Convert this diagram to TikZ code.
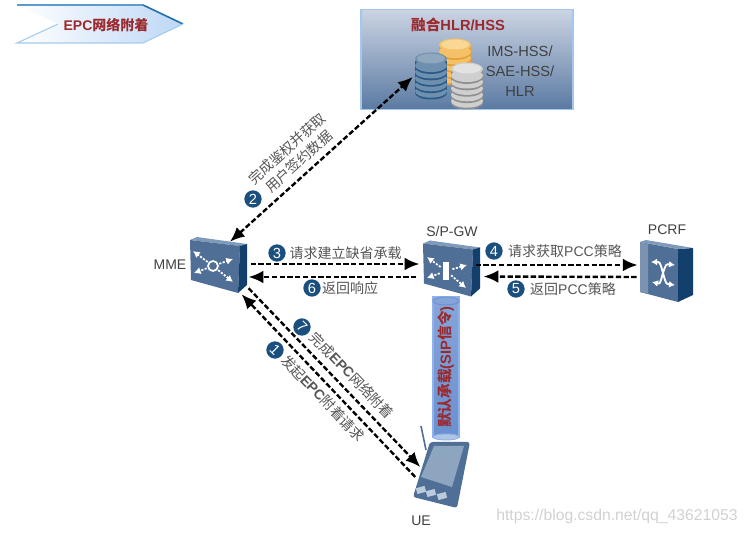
\documentclass[tikz,border=0pt]{standalone}
\usepackage{fontspec}
\setmainfont{Liberation Sans}
\newfontfamily\cjk{Noto Sans CJK SC}
\usetikzlibrary{arrows.meta,shapes.geometric}

\definecolor{devfront}{HTML}{4F6F96}
\definecolor{devside}{HTML}{123F6C}
\definecolor{devtop}{HTML}{7F9ABA}
\definecolor{badge}{HTML}{1B4F7E}
\definecolor{redtext}{HTML}{9B2A2E}
\definecolor{greytext}{HTML}{555555}
\definecolor{arrowfill}{HTML}{BDD7F5}
\definecolor{arrowtop}{HTML}{5B9BD0}
\definecolor{arrowdark}{HTML}{1F6FB0}
\definecolor{arrowlight}{HTML}{A5CBEE}
\definecolor{hsstop}{HTML}{CBD4E3}
\definecolor{hssbottom}{HTML}{5B7AA2}
\definecolor{hssline}{HTML}{A3C8F0}
\definecolor{bluerim}{HTML}{2A5A88}
\definecolor{blueface}{HTML}{6E8FAE}
\definecolor{bluecap}{HTML}{8FA8BE}
\definecolor{orangerim}{HTML}{E59F35}
\definecolor{orangeface}{HTML}{F5C168}
\definecolor{orangecap}{HTML}{F9D795}
\definecolor{greyrim}{HTML}{8F8F8F}
\definecolor{greyface}{HTML}{CFCFCF}
\definecolor{greycap}{HTML}{E2E2E2}
\definecolor{pipeleft}{HTML}{86A6DA}
\definecolor{pipemid}{HTML}{B0C4E4}
\definecolor{piperight}{HTML}{6A90CF}
\definecolor{pipeline}{HTML}{8FB2EC}
\definecolor{uescreen}{HTML}{8DA5BF}
\definecolor{uekey}{HTML}{BCCBDB}

\tikzset{
  link/.style={line width=1.8pt,dash pattern=on 4pt off 1.8pt},
  linkend/.style={-{Latex[length=11pt,width=9.5pt]}},
  linkboth/.style={{Latex[length=11pt,width=9.5pt]}-{Latex[length=11pt,width=9.5pt]}},
  numbadge/.style={circle,fill=badge,text=white,inner sep=0pt,minimum size=13pt,font=\fontsize{11}{12}\selectfont},
  steptext/.style={text=greytext,font=\fontsize{10.5}{13}\selectfont,inner sep=0pt,align=center},
  devname/.style={text=black!75,font=\fontsize{10.5}{12}\selectfont,inner sep=0pt},
  devbox/.style={inner sep=0pt,minimum width=#1},
  iconarrow/.style={white,line width=1.3pt,dash pattern=on 1.6pt off 1.1pt,-{Latex[length=5pt,width=5.5pt]},shorten <=5pt},
  pics/netbox/.style={code={
    \fill[devtop] (-29,-27) -- (-22,-30) -- (28,-23) -- (21,-21) -- cycle;
    \fill[devfront] (-29,-27) -- (21,-21) -- (19,26) -- (-28,13) -- cycle;
    \fill[devside] (21,-21) -- (28,-23) -- (28,18) -- (19,26) -- cycle;
  }},
  pics/coins/.style args={#1/#2/#3/#4}{code={
    \foreach \k in {#4,...,1} {
      \fill[#1] (-16,{6.4*\k-6.4}) rectangle (16,{6.4*\k});
      \fill[#1] (0,{6.4*\k}) ellipse (16 and 6.5);
      \fill[#2] (0,{6.4*\k-1.8}) ellipse (16 and 6.5);
    }
    \fill[#2] (0,-2) ellipse (16 and 6.5);
    \fill[#3] (0,-2.5) ellipse (14 and 5);
  }},
}

\begin{document}
\begin{tikzpicture}[x=0.75pt,y=-0.75pt]
\useasboundingbox (0,0) rectangle (747,534);

% title arrow
\path[left color=white,right color=arrowfill] (17,5) -- (143,5) -- (183,24) -- (143,43) -- (17,43) -- (58,24) -- cycle;
\draw[line width=1pt,arrowtop] (17,5) -- (143,5);
\draw[line width=1.2pt,arrowdark] (143,5) -- (183,24);
\draw[line width=.8pt,arrowlight] (183,24) -- (143,43) -- (17,43) -- (58,24);
\node[text=redtext,font=\fontsize{10.5}{12}\selectfont\bfseries,inner sep=0pt] (title) at (106,25) {EPC{\cjk 网络附着}};

% subscriber database
\node[draw=hssline,line width=.8pt,top color=hsstop,bottom color=hssbottom,minimum width=159pt,minimum height=75pt,inner sep=0pt] (hss) at (467,59.5) {};
\node[text=redtext,font=\fontsize{11}{13}\selectfont\bfseries,inner sep=0pt] (hsstitle) at (458,25) {{\cjk 融合}HLR/HSS};
\node[text=black!75,font=\fontsize{11}{15}\selectfont,inner sep=0pt,align=center] (hsstext) at (520,71) {IMS-HSS/\\SAE-HSS/\\HLR};
\pic at (455,47) {coins={orangerim/orangeface/orangecap/5}};
\pic at (431,61) {coins={bluerim/blueface/bluecap/5}};
\node[minimum width=24pt,minimum height=34.5pt,inner sep=0pt] (hssdata) at (431,75) {};
\pic at (467,71) {coins={greyrim/greyface/greycap/5}};

% devices
\node[devbox=44pt,minimum height=40.5pt] (mme) at (219,267) {};
\pic at (219,267) {netbox};
\draw[white,line width=1.3pt] (213,266) circle (5);
\foreach \tipx/\tipy in {-26/-16,14/-8,-25/6,14/15} {
  \draw[iconarrow] (213,266) -- (219+\tipx,267+\tipy);
}
\node[devname] (mmename) at (170,265) {MME};

\node[devbox=44pt,minimum height=44pt] (sgw) at (452,270.5) {};
\pic at (452,270.5) {netbox};
\fill[white] (443,262) rectangle (449,280);
\foreach \tipx/\tipy in {-25/-13,15/-5,-25/8,14/18} {
  \draw[iconarrow] (446,271) -- (452+\tipx,270+\tipy);
}
\node[devname] (sgwname) at (452,231) {S/P-GW};

\node[devbox=40pt,minimum height=46.5pt] (pcrf) at (666.5,271) {};
\fill[devfront] (640,242) -- (678,249) -- (678,302) -- (640,292) -- cycle;
\fill[devfront!75!white] (640,242) -- (648,244) -- (648,294) -- (640,292) -- cycle;
\fill[devside] (678,249) -- (693,248) -- (693,295) -- (678,302) -- cycle;
\fill[devtop] (640,242) -- (646,240) -- (693,248) -- (678,249) -- cycle;
\foreach \tipx/\tipy/\bendx/\bendy in {651/262/660/262,675/265/666/264,652/282/660/284,675/285/666/284} {
  \draw[white,line width=1.4pt,-{Latex[length=4.5pt,width=5pt]}] (663,273) .. controls (\bendx,\bendy) .. (\tipx,\tipy);
}
\node[devname] (pcrfname) at (667,230) {PCRF};

% default bearer
\node[rotate=90,minimum width=105pt,minimum height=19.5pt,inner sep=0pt,draw=pipeline,line width=.8pt,
  top color=pipeleft,middle color=pipemid,bottom color=piperight,
  text=redtext,font=\fontsize{11}{12}\selectfont\bfseries] (bearer) at (446,367) {{\cjk 默认承载}(SIP{\cjk 信令})};
\draw[piperight,line width=.7pt] (446,301) ellipse (13 and 4);
\draw[pipeline,line width=.7pt,fill=pipemid] (446,437) ellipse (13 and 3);

% UE
\node[minimum width=42pt,minimum height=49.5pt,inner sep=0pt] (ue) at (441.5,475) {};
\draw[line width=1.2pt,devfront] (426,450) -- (421,426);
\fill[devfront,rounded corners=2pt] (430,442) -- (470,442) -- (457,508) -- (413,497) -- cycle;
\fill[uescreen] (434,446) -- (464,446) -- (452,487) -- (421,477) -- cycle;
\foreach \bx/\by in {421/490,431/493,442/496} {
  \fill[rotate around={15:(\bx,\by)},uekey] (\bx-4.5,\by-3) rectangle (\bx+4.5,\by+3);
}
\node[devname] (uename) at (421,521) {UE};

% connectors
\draw[link,linkboth] ([shift={(11,2)}]mme.north) -- ([shift={(-2,2)}]hssdata.west);
\draw[link,linkend] ([shift={(2,-3)}]mme.east) -- ([shift={(-3,-6.5)}]sgw.west);
\draw[link,linkend] ([shift={(-6,-5.5)}]sgw.east) -- ([shift={(-2,-6)}]pcrf.west);
\draw[link,linkend] ([shift={(-3,6)}]pcrf.west) -- ([shift={(2,6)}]sgw.east);
\draw[link,linkend] ([shift={(-6,6.5)}]sgw.west) -- ([shift={(0,10)}]mme.east);
\draw[link,linkend] ([shift={(0,-6)}]mme.south east) -- ([shift={(7,-8)}]ue.west);
\draw[link,linkend] ([shift={(2,2)}]ue.west) -- ([shift={(-7,0)}]mme.south east);

% step labels
\node[numbadge] (n2) at (253,199) {2};
\node[steptext,rotate=42] (t2) at (293,155) {{\cjk 完成鉴权并获取}\\{\cjk 用户签约数据}};
\node[numbadge] (n3) at (277,253) {3};
\node[steptext] (t3) at (345.5,253) {\cjk 请求建立缺省承载};
\node[numbadge] (n4) at (494,251) {4};
\node[steptext] (t4) at (565,251) {{\cjk 请求获取}PCC{\cjk 策略}};
\node[numbadge] (n5) at (516,289) {5};
\node[steptext] (t5) at (573,289) {{\cjk 返回}PCC{\cjk 策略}};
\node[numbadge] (n6) at (312,288) {6};
\node[steptext] (t6) at (350,288) {\cjk 返回响应};
\node[numbadge,rotate=-45] (n7) at (302,327) {7};
\node[steptext,rotate=-46] (t7) at (352,375) {{\cjk 完成}\textbf{EPC}{\cjk 网络附着}};
\node[numbadge,rotate=-45] (n1) at (275,350) {1};
\node[steptext,rotate=-46] (t1) at (323,398) {{\cjk 发起}\textbf{EPC}{\cjk 附着请求}};

\node[text=black!18,font=\fontsize{11.8}{13}\selectfont,inner sep=0pt] (mark) at (617,516) {https://blog.csdn.net/qq\_43621053};
\end{tikzpicture}
\end{document}
